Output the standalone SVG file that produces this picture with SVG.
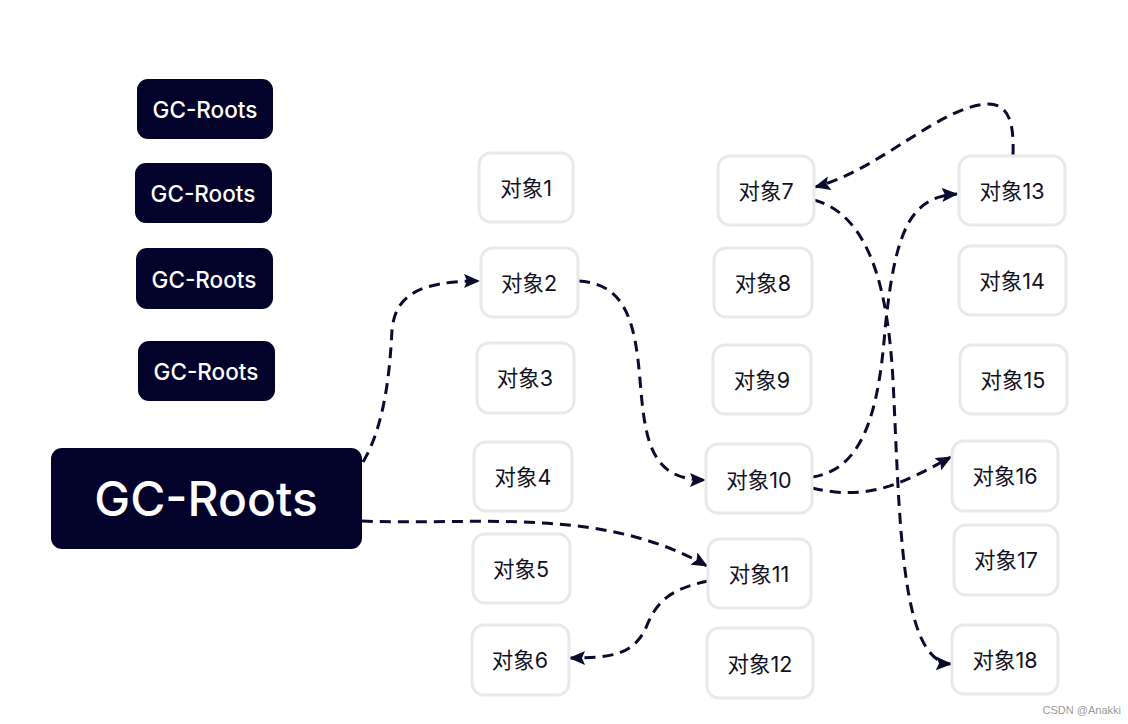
<svg xmlns="http://www.w3.org/2000/svg" width="1128" height="724" viewBox="0 0 1128 724">
<style>
.root rect{fill:#02022a;}
.root text{fill:#ffffff;font-family:Inter,"Noto Sans",sans-serif;font-weight:500;text-anchor:middle;dominant-baseline:central;}
.obj rect{fill:#ffffff;stroke:#e9e9ec;stroke-width:3;}
.obj text{fill:#111122;font-family:Inter,"Noto Sans CJK SC",sans-serif;font-size:21.5px;text-anchor:middle;dominant-baseline:central;}
.edge{fill:none;stroke:#0b0b30;stroke-width:3;stroke-dasharray:11 7;marker-end:url(#arr);}
</style>
<defs>
<marker id="arr" markerUnits="userSpaceOnUse" markerWidth="16" markerHeight="14" refX="15" refY="7" orient="auto">
<path d="M0,0 L16,7 L0,14 L3,7 Z" fill="#0b0b30"/>
</marker>
</defs>
<rect width="1128" height="724" fill="#ffffff"/>
<g id="connectors">
<path class="edge" d="M363,462 C385,425 390,370 392,330 C395,295 420,281 479,281"/>
<path class="edge" d="M579,281 C625,284 635,320 640,380 C645,440 650,480 705,480"/>
<path class="edge" d="M362,521 C470,526 600,505 707,566"/>
<path class="edge" d="M708,581 C665,590 655,605 645,630 C632,655 610,658 570,658"/>
<path class="edge" d="M812,477 C860,470 878,420 885,330 C895,230 910,197 957,194"/>
<path class="edge" d="M812,488 C870,502 905,482 951,457"/>
<path class="edge" d="M814,200 C870,215 888,290 893,380 C900,520 900,662 951,664"/>
<path class="edge" d="M1013,155 C1014,125 1010,104 988,104 C940,106 880,170 815,187"/>
</g>
<g id="gc-roots-1" class="root"><rect x="137" y="79" width="136" height="60" rx="11"/><text x="205" y="109" font-size="22.5">GC-Roots</text></g>
<g id="gc-roots-2" class="root"><rect x="135" y="163" width="137" height="60" rx="11"/><text x="203" y="193" font-size="22.5">GC-Roots</text></g>
<g id="gc-roots-3" class="root"><rect x="136" y="248" width="137" height="61" rx="11"/><text x="204" y="279" font-size="22.5">GC-Roots</text></g>
<g id="gc-roots-4" class="root"><rect x="138" y="341" width="137" height="60" rx="11"/><text x="206" y="371" font-size="22.5">GC-Roots</text></g>
<g id="gc-roots-main" class="root"><rect x="51" y="448" width="311" height="101" rx="11"/><text x="206" y="498" font-size="48">GC-Roots</text></g>
<g id="obj1" class="obj"><rect x="479" y="153" width="94" height="69" rx="12"/><text x="526" y="188">对象1</text></g>
<g id="obj2" class="obj"><rect x="481" y="248" width="97" height="69" rx="12"/><text x="529" y="283">对象2</text></g>
<g id="obj3" class="obj"><rect x="477" y="343" width="97" height="70" rx="12"/><text x="525" y="378">对象3</text></g>
<g id="obj4" class="obj"><rect x="474" y="442" width="98" height="69" rx="12"/><text x="523" y="477">对象4</text></g>
<g id="obj5" class="obj"><rect x="473" y="534" width="97" height="69" rx="12"/><text x="521" y="569">对象5</text></g>
<g id="obj6" class="obj"><rect x="472" y="625" width="97" height="70" rx="12"/><text x="520" y="660">对象6</text></g>
<g id="obj7" class="obj"><rect x="718" y="156" width="96" height="69" rx="12"/><text x="766" y="191">对象7</text></g>
<g id="obj8" class="obj"><rect x="714" y="248" width="98" height="69" rx="12"/><text x="763" y="283">对象8</text></g>
<g id="obj9" class="obj"><rect x="713" y="345" width="98" height="69" rx="12"/><text x="762" y="380">对象9</text></g>
<g id="obj10" class="obj"><rect x="706" y="444" width="106" height="69" rx="12"/><text x="759" y="480">对象10</text></g>
<g id="obj11" class="obj"><rect x="708" y="539" width="103" height="69" rx="12"/><text x="759" y="574">对象11</text></g>
<g id="obj12" class="obj"><rect x="707" y="628" width="106" height="70" rx="12"/><text x="760" y="664">对象12</text></g>
<g id="obj13" class="obj"><rect x="959" y="156" width="106" height="69" rx="12"/><text x="1012" y="191">对象13</text></g>
<g id="obj14" class="obj"><rect x="959" y="246" width="107" height="69" rx="12"/><text x="1012" y="281">对象14</text></g>
<g id="obj15" class="obj"><rect x="960" y="345" width="107" height="69" rx="12"/><text x="1013" y="380">对象15</text></g>
<g id="obj16" class="obj"><rect x="952" y="441" width="106" height="70" rx="12"/><text x="1005" y="476">对象16</text></g>
<g id="obj17" class="obj"><rect x="954" y="525" width="104" height="70" rx="12"/><text x="1006" y="560">对象17</text></g>
<g id="obj18" class="obj"><rect x="952" y="625" width="106" height="69" rx="12"/><text x="1005" y="660">对象18</text></g>
<text x="1121" y="714" font-family="'Liberation Sans',Arial,sans-serif" font-size="11" fill="#9a9a9a" text-anchor="end">CSDN @Anakki</text>
</svg>
